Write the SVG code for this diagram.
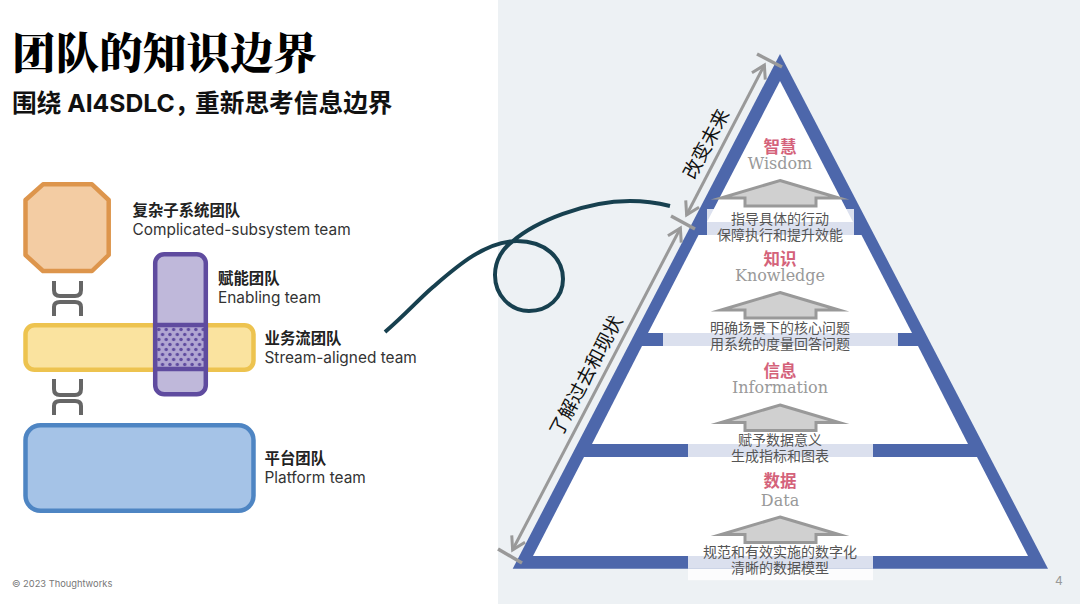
<svg xmlns="http://www.w3.org/2000/svg" width="1080" height="604" viewBox="0 0 1080 604">
<style>
.title{font-family:"Noto Serif CJK SC","Noto Sans CJK SC",serif;font-weight:900;font-size:43.6px;fill:#000}
.sub{font-family:Inter,"Noto Sans CJK SC",sans-serif;font-weight:700;font-size:24.7px;fill:#111}
.tb{font-family:"Noto Sans CJK SC",sans-serif;font-weight:700;font-size:15.4px;fill:#222}
.te{font-family:Inter,sans-serif;font-size:15.4px;fill:#333}
.red{font-family:"Noto Sans CJK SC",sans-serif;font-weight:700;font-size:16.5px;fill:#d4627a;text-anchor:middle}
.en{font-family:"DejaVu Serif","Liberation Serif",serif;font-size:16px;fill:#999;text-anchor:middle}
.desc{font-family:"Noto Sans CJK SC",sans-serif;font-size:14px;fill:#555;text-anchor:middle}
.side{font-family:"Noto Sans CJK SC",sans-serif;font-size:19px;fill:#111;text-anchor:middle}
.arr{fill:#d0d0d0;stroke:#999;stroke-width:3;stroke-miterlimit:12}
.strip{fill:#dbe0ee}
.h{fill:none;stroke:#666;stroke-width:4}
.g{stroke:#999;stroke-width:3;fill:none}
.t{stroke:#999;stroke-width:3.5;fill:none}
</style>
<defs>
<pattern id="dots" width="7.4" height="10" patternUnits="userSpaceOnUse" patternTransform="translate(157 327)">
<rect width="7.4" height="10" fill="#b0a5d2"/>
<circle cx="1.85" cy="2.5" r="1.7" fill="#5f4b9f"/><circle cx="5.55" cy="7.5" r="1.7" fill="#5f4b9f"/>
</pattern>
<marker id="ah" markerWidth="20" markerHeight="20" refX="15" refY="10" orient="auto-start-reverse" markerUnits="userSpaceOnUse"><path d="M2 2.5L14.500 10L2 17.500" fill="none" stroke="#999" stroke-width="3"/></marker>
</defs>
<rect width="1080" height="604" fill="#fff"/>
<rect x="498" width="582" height="604" fill="#edf1f4"/>
<text class="title" x="12" y="69">团队的知识边界</text>
<text class="sub" x="12" y="112">围绕 AI4SDLC，<tspan x="195">重新思考信息边界</tspan></text>
<text x="12" y="587" font-family="Inter,sans-serif" font-size="9.3" fill="#777">© 2023 Thoughtworks</text>
<text x="1055" y="585" font-family="Inter,sans-serif" font-size="12" fill="#999">4</text>

<g id="complicated">
<path d="M43 184.300H92L108.700 200V255L92 271H43L25.500 255V200Z" fill="#f3cca3" stroke="#dd954c" stroke-width="4.5" stroke-linejoin="round"/>
<text class="tb" x="132.500" y="216">复杂子系统团队</text>
<text class="te" x="132.500" y="235">Complicated-subsystem team</text>
</g>
<g id="stream">
<rect x="25.500" y="325.300" width="228" height="44.500" rx="9" fill="#fae39f" stroke="#edc34f" stroke-width="4.500"/>
<text class="tb" x="264.500" y="344">业务流团队</text>
<text class="te" x="264.500" y="363">Stream-aligned team</text>
</g>
<g id="enabling">
<rect x="155.200" y="254.200" width="50.600" height="140" rx="9" fill="#bfb8da" stroke="#5f4b9f" stroke-width="4.500"/>
<rect x="155.200" y="325" width="50.600" height="44" fill="url(#dots)" stroke="#5f4b9f" stroke-width="4.500"/>
<text class="tb" x="218" y="284">赋能团队</text>
<text class="te" x="218" y="303">Enabling team</text>
</g>
<g id="platform">
<rect x="25.500" y="425.300" width="228" height="85.500" rx="15" fill="#a5c3e7" stroke="#4e85c3" stroke-width="4.500"/>
<text class="tb" x="264.500" y="464">平台团队</text>
<text class="te" x="264.500" y="483">Platform team</text>
</g>
<g id="pyramid">
<path d="M780 54L1048 568.700H512.700Z" fill="#4d67ab"/>
<path d="M780 81L853 222H707Z" fill="#fff"/>
<path d="M698.500 235H861.500L912 333H648Z" fill="#fff"/>
<path d="M642 346H918L968 444H592Z" fill="#fff"/>
<path d="M584 457H977L1028 556H533Z" fill="#fff"/>
<rect x="707" y="209" width="147" height="13" fill="#fff" fill-opacity=".8"/>
<rect x="707" y="222" width="147" height="13" class="strip"/>
<rect x="663" y="333" width="235" height="13" class="strip"/>
<rect x="688" y="444" width="185" height="13" class="strip"/>
<rect x="688" y="556" width="185" height="12.700" class="strip"/>
<rect x="688" y="568.700" width="185" height="11.500" fill="#fff" fill-opacity=".8"/>
</g>
<g id="connectors">
<path class="h" d="M54 281V290Q54 296 60 296H75Q81 296 81 290V281M54 316V307Q54 302 60 302H75Q81 302 81 307V316"/>
<path class="h" d="M54 379V389Q54 395 60 395H75Q81 395 81 389V379M54 415V406Q54 401 60 401H75Q81 401 81 406V415"/>
<path d="M385 332C405 315 420 298 433 287C455 268 485 241 517 241C545 241 563 258 563 279C563 298 548 311 529 311C510 311 495 295 495 275C495 260 503 248 513 241C535 222 585 201 630 201C645 201 658 203 670 206" fill="none" stroke="#17404f" stroke-width="4"/>
<line class="t" x1="757" y1="54" x2="782" y2="67"/>
<line class="t" x1="671" y1="216" x2="695" y2="229"/>
<line class="t" x1="498" y1="549" x2="522" y2="563"/>
<line class="g" x1="686.400" y1="215.300" x2="764.600" y2="64.700" marker-start="url(#ah)" marker-end="url(#ah)"/>
<line class="g" x1="512.400" y1="550.300" x2="680.600" y2="227.700" marker-start="url(#ah)" marker-end="url(#ah)"/>
</g>
<g id="wisdom">
<text class="red" x="780" y="153">智慧</text><text class="en" x="780" y="169">Wisdom</text>
<path class="arr" d="M780 180.500L839 198H816V206H745V198H721Z"/>
<text class="desc" x="780" y="224">指导具体的行动</text><text class="desc" x="780" y="239.500">保障执行和提升效能</text>
</g>
<g id="knowledge">
<text class="red" x="780" y="265">知识</text><text class="en" x="780" y="281">Knowledge</text>
<path class="arr" d="M780 292.500L839 310H816V318H745V310H721Z"/>
<text class="desc" x="780" y="333">明确场景下的核心问题</text><text class="desc" x="780" y="349">用系统的度量回答问题</text>
</g>
<g id="information">
<text class="red" x="780" y="377">信息</text><text class="en" x="780" y="393">Information</text>
<path class="arr" d="M780 405L839 422.500H816V430.500H745V422.500H721Z"/>
<text class="desc" x="780" y="445">赋予数据意义</text><text class="desc" x="780" y="461">生成指标和图表</text>
</g>
<g id="data">
<text class="red" x="780" y="487">数据</text><text class="en" x="780" y="506">Data</text>
<path class="arr" d="M780 517L839 534.500H816V542.500H745V534.500H721Z"/>
<text class="desc" x="780" y="557">规范和有效实施的数字化</text><text class="desc" x="780" y="573">清晰的数据模型</text>
</g>
<text class="side" transform="translate(712 147) rotate(-62)" x="0" y="0">改变未来</text>
<text class="side" transform="translate(592 379) rotate(-62)" x="0" y="0">了解过去和现状</text>
</svg>
